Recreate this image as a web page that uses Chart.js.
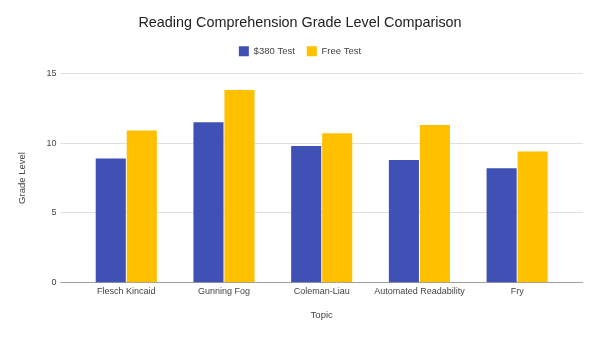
<!DOCTYPE html>
<html>
<head>
<meta charset="utf-8">
<script src="https://cdn.jsdelivr.net/npm/chart.js@4"></script>
<style>
  html, body { margin:0; padding:0; background:#fff; }
  #wrap { width:600px; height:337px; position:relative; }
</style>
</head>
<body>
<div id="wrap"><canvas id="chart"></canvas></div>
<script>
// ── Data ─────────────────────────────────────────────────
const topics = ['Flesch Kincaid','Gunning Fog','Coleman-Liau','Automated Readability','Fry'];
const paidTest = [8.9, 11.5, 9.8, 8.8, 8.2];
const freeTest = [10.9, 13.8, 10.7, 11.3, 9.4];
const yTicks = [0, 5, 10, 15];

// ── Styles ───────────────────────────────────────────────
const fontFam = '"Liberation Sans", Arial, sans-serif';
const gridC = '#e0e0e0';
const zeroC = '#9e9e9e';
const tickC = '#444';
const lineColor = ctx => ctx.tick && ctx.tick.value === 0 ? zeroC : gridC;

// a bit more room under the legend
const legendGap = {
  id: 'legendGap',
  beforeInit(chart) {
    const fit = chart.legend.fit;
    chart.legend.fit = function () { fit.bind(chart.legend)(); this.height += 7; };
  }
};

new Chart(document.getElementById('chart'), {
  type: 'bar',
  data: {
    labels: topics,
    datasets: [
      { label:'$380 Test', data: paidTest, backgroundColor:'#3f51b5',
        barPercentage:0.97, categoryPercentage:0.635 },
      { label:'Free Test', data: freeTest, backgroundColor:'#ffc000',
        barPercentage:0.97, categoryPercentage:0.635 }
    ]
  },
  plugins: [legendGap],
  options: {
    responsive: true, maintainAspectRatio: false, animation: false,
    layout: { padding: { left: 17, right: 17, top: 7, bottom: 16 } },
    plugins: {
      title: { display:true, text:'Reading Comprehension Grade Level Comparison',
        color:'#212121', font:{family:fontFam, size:14.4, weight:'normal'}, padding:{top:7, bottom:3} },
      legend: { position:'top',
        labels: { boxWidth:10, boxHeight:10, padding:12, color:tickC, font:{family:fontFam, size:9.5} } },
      tooltip: { enabled:false }
    },
    scales: {
      x: {
        grid: { display:false, drawTicks:false },
        border: { color: zeroC },
        ticks: { color:tickC, font:{family:fontFam, size:9}, padding:3, maxRotation:0, autoSkip:false },
        title: { display:true, text:'Topic', color:tickC, font:{family:fontFam, size:9.5}, padding:{top:10, bottom:0} }
      },
      y: {
        min: yTicks[0], max: yTicks[yTicks.length-1],
        afterBuildTicks: s => { s.ticks = yTicks.map(v => ({value:v})); },
        grid: { color: lineColor, tickColor: lineColor, tickLength:17 },
        border: { display:false },
        ticks: { color:tickC, font:{family:fontFam, size:9}, padding:4 },
        title: { display:true, text:'Grade Level', color:tickC, font:{family:fontFam, size:9.5}, padding:{top:0, bottom:14} }
      },
      // right-hand extension of the gridlines
      y2: {
        position:'right', min: yTicks[0], max: yTicks[yTicks.length-1],
        afterBuildTicks: s => { s.ticks = yTicks.map(v => ({value:v})); },
        grid: { drawOnChartArea:false, tickColor: lineColor, tickLength:17 },
        border: { display:false },
        ticks: { display:false }
      }
    }
  }
});
</script>
</body>
</html>
